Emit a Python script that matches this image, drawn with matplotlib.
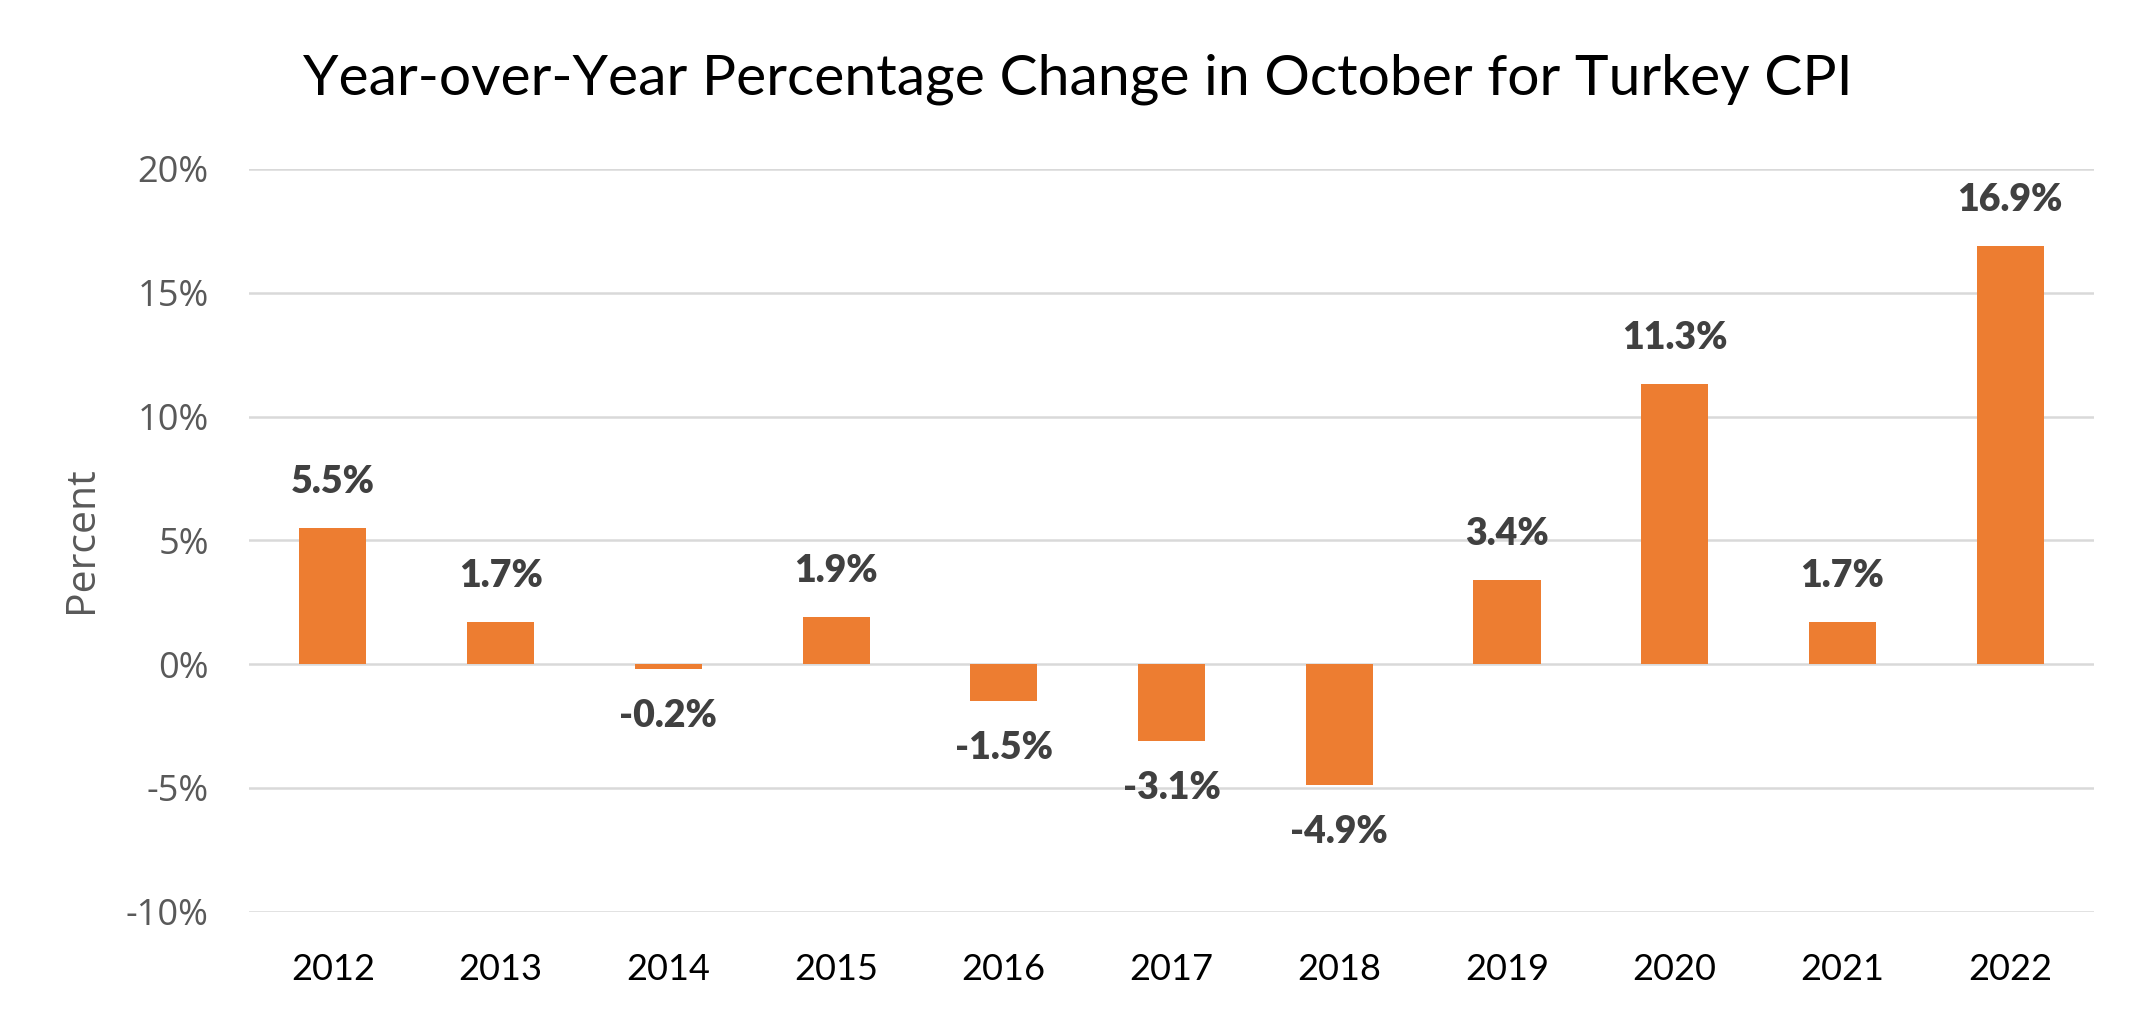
import matplotlib
matplotlib.use("Agg")
import matplotlib.pyplot as plt
from matplotlib.ticker import FuncFormatter

years = ["2012", "2013", "2014", "2015", "2016", "2017", "2018", "2019", "2020", "2021", "2022"]
values = [5.5, 1.7, -0.2, 1.9, -1.5, -3.1, -4.9, 3.4, 11.3, 1.7, 16.9]
yticks = [-10, -5, 0, 5, 10, 15, 20]
title = "Year-over-Year Percentage Change in October for Turkey CPI"
ylabel = "Percent"

W, H = 2145, 1022
fig = plt.figure(figsize=(W / 100, H / 100), dpi=100)
ax = fig.add_axes([249 / W, 1 - 911.5 / H, (2094 - 249) / W, (911.5 - 169) / H])

x = list(range(len(years)))
ax.bar(x, values, width=0.40, color="#ED7D31", zorder=3)

ax.set_xlim(-0.5, len(years) - 0.5)
ax.set_ylim(-10, 20)
ax.set_yticks(yticks)
ax.yaxis.set_major_formatter(FuncFormatter(lambda v, p: f"{v:.0f}%"))
ax.set_xticks(x)
ax.set_xticklabels(years)

ax.grid(axis="y", color="#D9D9D9", linewidth=1.8, zorder=0)
for s in ax.spines.values():
    s.set_visible(False)
ax.tick_params(axis="both", length=0)
ax.tick_params(axis="y", pad=29, labelsize=26, labelcolor="#595959")
ax.tick_params(axis="x", pad=30, labelsize=26, labelcolor="#000000")
for lab in ax.get_yticklabels():
    lab.set_fontfamily("Open Sans")
for lab in ax.get_xticklabels():
    lab.set_fontfamily("Lato")

for xi, v in zip(x, values):
    off = 33 if v >= 0 else -34
    ax.annotate(f"{v:.1f}%", xy=(xi, v), xytext=(0, off), textcoords="offset points",
                ha="center", va="center", fontsize=27, fontweight="heavy",
                color="#404040", family="Lato")

fig.text(1078 / W, 1 - 94 / H, title, ha="center", va="baseline",
         fontsize=41, color="#000000", family="Lato")
fig.text(82 / W, 1 - 540 / H, ylabel, rotation=90, ha="center", va="center",
         fontsize=29.5, color="#595959", family="Open Sans")

fig.savefig("out.png", dpi=100, facecolor="white")
